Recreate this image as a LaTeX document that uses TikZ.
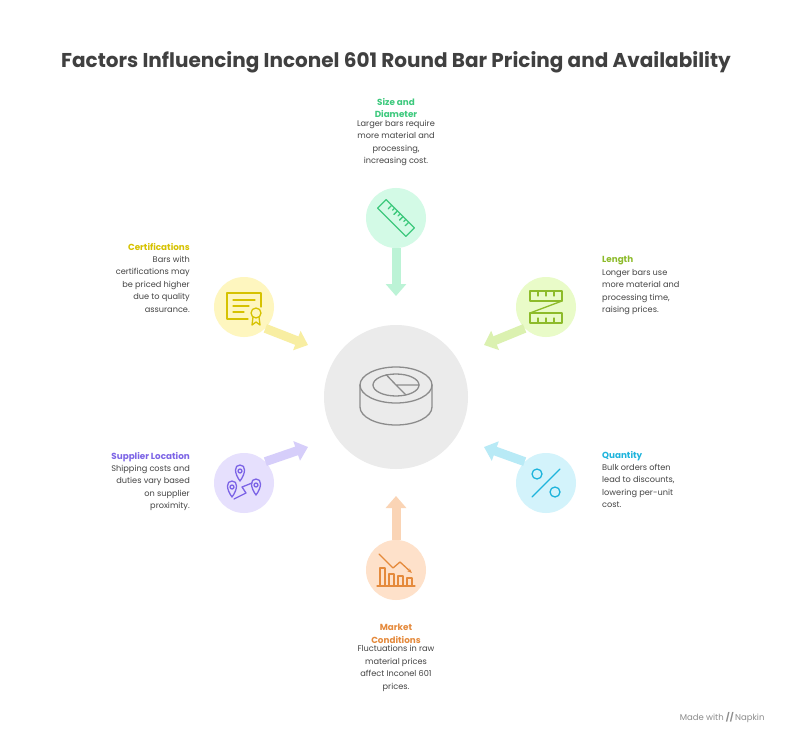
\documentclass[tikz,border=0pt]{standalone}
\usepackage{fontspec}
\setmainfont{Poppins}
\newfontfamily\titlefont{Poppins}
\usetikzlibrary{arrows.meta,positioning}
\definecolor{cSize}{HTML}{3DC97D}\definecolor{fSize}{HTML}{D3FAE6}
\definecolor{cLen}{HTML}{8DBB2A}\definecolor{fLen}{HTML}{E9FBC8}
\definecolor{cQty}{HTML}{1EB4DC}\definecolor{fQty}{HTML}{D3F3FB}
\definecolor{cMkt}{HTML}{E58A3C}\definecolor{fMkt}{HTML}{FEE1CA}
\definecolor{cSup}{HTML}{7C64E6}\definecolor{fSup}{HTML}{E6E0FD}
\definecolor{cCer}{HTML}{D6C200}\definecolor{fCer}{HTML}{FEF6BF}
\definecolor{body}{HTML}{444444}
\tikzset{
  icon/.style={circle, minimum size=60pt, inner sep=0pt},
  hub/.style={circle, fill=black!8, minimum size=144pt, inner sep=0pt},
  feed/.style={line width=9pt, -{Triangle[width=20pt,length=12pt]}},
  ttl/.style={font=\fontsize{8.8}{12.5}\selectfont\bfseries, inner sep=0pt},
  txt/.style={font=\fontsize{8.2}{12.5}\selectfont, text=body, inner sep=0pt},
  ln/.style={line width=1.3pt, line cap=round, line join=round}
}
\begin{document}
\begin{tikzpicture}[x=1pt,y=-1pt]
  \useasboundingbox[fill=white] (0,0) rectangle (792,746);
  \node[font=\titlefont\fontsize{20}{22}\selectfont\bfseries, text=black!75] (title) at (396,62)
    {Factors Influencing Inconel 601 Round Bar Pricing and Availability};
  % hub and icons
  \node[hub] (hub) at (396,397) {};
  \node[icon, fill=fSize] (size) at (396,218) {};
  \node[icon, fill=fLen] (len) at (546,307) {};
  \node[icon, fill=fQty] (qty) at (546,483) {};
  \node[icon, fill=fMkt] (mkt) at (396,570) {};
  \node[icon, fill=fSup] (sup) at (244,483) {};
  \node[icon, fill=fCer] (cer) at (244,307) {};
  % arrows
  \coordinate (hN) at (396,296); \coordinate (hS) at (396,496);
  \coordinate (hNE) at (484,345); \coordinate (hSE) at (484,447);
  \coordinate (hNW) at (308,345); \coordinate (hSW) at (308,447);
  \draw[feed, fSize!85!cSize] (size.south) -- (hN);
  \draw[feed, fLen!85!cLen] (len.south west) -- (hNE);
  \draw[feed, fQty!85!cQty] (qty.north west) -- (hSE);
  \draw[feed, fMkt!85!cMkt] (mkt.north) -- (hS);
  \draw[feed, fSup!85!cSup] (sup.north east) -- (hSW);
  \draw[feed, fCer!85!cCer] (cer.south east) -- (hNW);
  % hub icon: cylinder with pie
  \begin{scope}[shift={(hub.center)}, ln, black!45]
    \draw (0,-12) ellipse[x radius=36, y radius=18];
    \draw (-36,-12) -- (-36,10) arc[start angle=180, end angle=0, x radius=36, y radius=18] -- (36,-12);
    \draw (0,-12) ellipse[x radius=23, y radius=11];
    \draw (0,-12) -- (-10,-22.5) (0,-12) -- (23,-12) (0,-12) -- (10,-2);
  \end{scope}
  % ruler
  \begin{scope}[shift={(size.center)}, rotate=-45, ln, cSize]
    \draw (-20,-6) rectangle (20,6);
    \foreach \t in {-12,-4,4,12} \draw (\t,-6) -- (\t,-1);
    \foreach \t in {-8,0,8} \draw (\t,-6) -- (\t,-3);
  \end{scope}
  % length
  \begin{scope}[shift={(len.center)}, ln, cLen]
    \draw (-16,-16) rectangle (16,-6) (-16,6) rectangle (16,16);
    \draw (16,-6) -- (-16,6);
    \foreach \t in {-8,0,8} \draw (\t,-16) -- (\t,-11) (\t,16) -- (\t,11);
  \end{scope}
  % quantity
  \begin{scope}[shift={(qty.center)}, ln, cQty]
    \draw (14,-14) -- (-14,14);
    \draw (-9,-9) circle (5) (9,9) circle (5);
  \end{scope}
  % market
  \begin{scope}[shift={(mkt.center)}, ln, cMkt]
    \draw (-17,-16) -- (-3,-2) -- (4,-8);
    \draw[-{Stealth[length=5pt]}] (4,-8) -- (16,3);
    \draw (-16,16) -- (-16,-2) -- (-11,-2) -- (-11,16);
    \draw (-7,16) -- (-7,4) -- (-2,4) -- (-2,16);
    \draw (2,16) -- (2,6) -- (7,6) -- (7,16);
    \draw (11,16) -- (11,8) -- (16,8) -- (16,16);
    \draw (-19,16) -- (19,16);
  \end{scope}
  % supplier
  \begin{scope}[shift={(sup.center)}, ln, cSup]
    \draw (-4,-2) .. controls (-10,-10) and (-10,-18) .. (-4,-18) .. controls (2,-18) and (2,-10) .. (-4,-2);
    \draw (-4,-12) circle (2);
    \draw (-12,14) .. controls (-18,6) and (-18,-2) .. (-12,-2) .. controls (-6,-2) and (-6,6) .. (-12,14);
    \draw (-12,4) circle (2);
    \draw (12,12) .. controls (6,4) and (6,-4) .. (12,-4) .. controls (18,-4) and (18,4) .. (12,12);
    \draw (12,2) circle (2);
    \draw (-10,16) -- (2,10) -- (-2,4) -- (8,0);
  \end{scope}
  % certificate
  \begin{scope}[shift={(cer.center)}, ln, cCer]
    \draw (4,12) -- (-17,12) -- (-17,-14) -- (17,-14) -- (17,0);
    \draw (-11,-7) -- (11,-7) (-11,-1) -- (5,-1) (-11,5) -- (0,5);
    \draw (12,6) circle (5);
    \draw (9,10) -- (8,18) -- (12,15) -- (16,18) -- (15,10);
  \end{scope}
  % texts
  \node[ttl, text=cSize, align=center, anchor=north] (sizeT) at (396,98) {Size and\\Diameter};
  \node[txt, align=center, below=2pt of sizeT] (sizeB) {Larger bars require\\more material and\\processing,\\increasing cost.};
  \node[ttl, text=cLen, anchor=north west] (lenT) at (602,256) {Length};
  \node[txt, align=left, anchor=north west] (lenB) at (602,269) {Longer bars use\\more material and\\processing time,\\raising prices.};
  \node[ttl, text=cQty, anchor=north west] (qtyT) at (602,451) {Quantity};
  \node[txt, align=left, anchor=north west] (qtyB) at (602,464) {Bulk orders often\\lead to discounts,\\lowering per-unit\\cost.};
  \node[ttl, text=cMkt, align=center, anchor=north] (mktT) at (396,624) {Market\\Conditions};
  \node[txt, align=center, below=2pt of mktT] (mktB) {Fluctuations in raw\\material prices\\affect Inconel 601\\prices.};
  \node[ttl, text=cSup, anchor=north east] (supT) at (190,452) {Supplier Location};
  \node[txt, align=right, anchor=north east] (supB) at (190,465) {Shipping costs and\\duties vary based\\on supplier\\proximity.};
  \node[ttl, text=cCer, anchor=north east] (cerT) at (190,243) {Certifications};
  \node[txt, align=right, anchor=north east] (cerB) at (190,256) {Bars with\\certifications may\\be priced higher\\due to quality\\assurance.};
  \node[font=\fontsize{8.5}{10}\selectfont, text=black!45, anchor=east] (made) at (768,718) {Made with \textbf{//}\,Napkin};
\end{tikzpicture}
\end{document}
